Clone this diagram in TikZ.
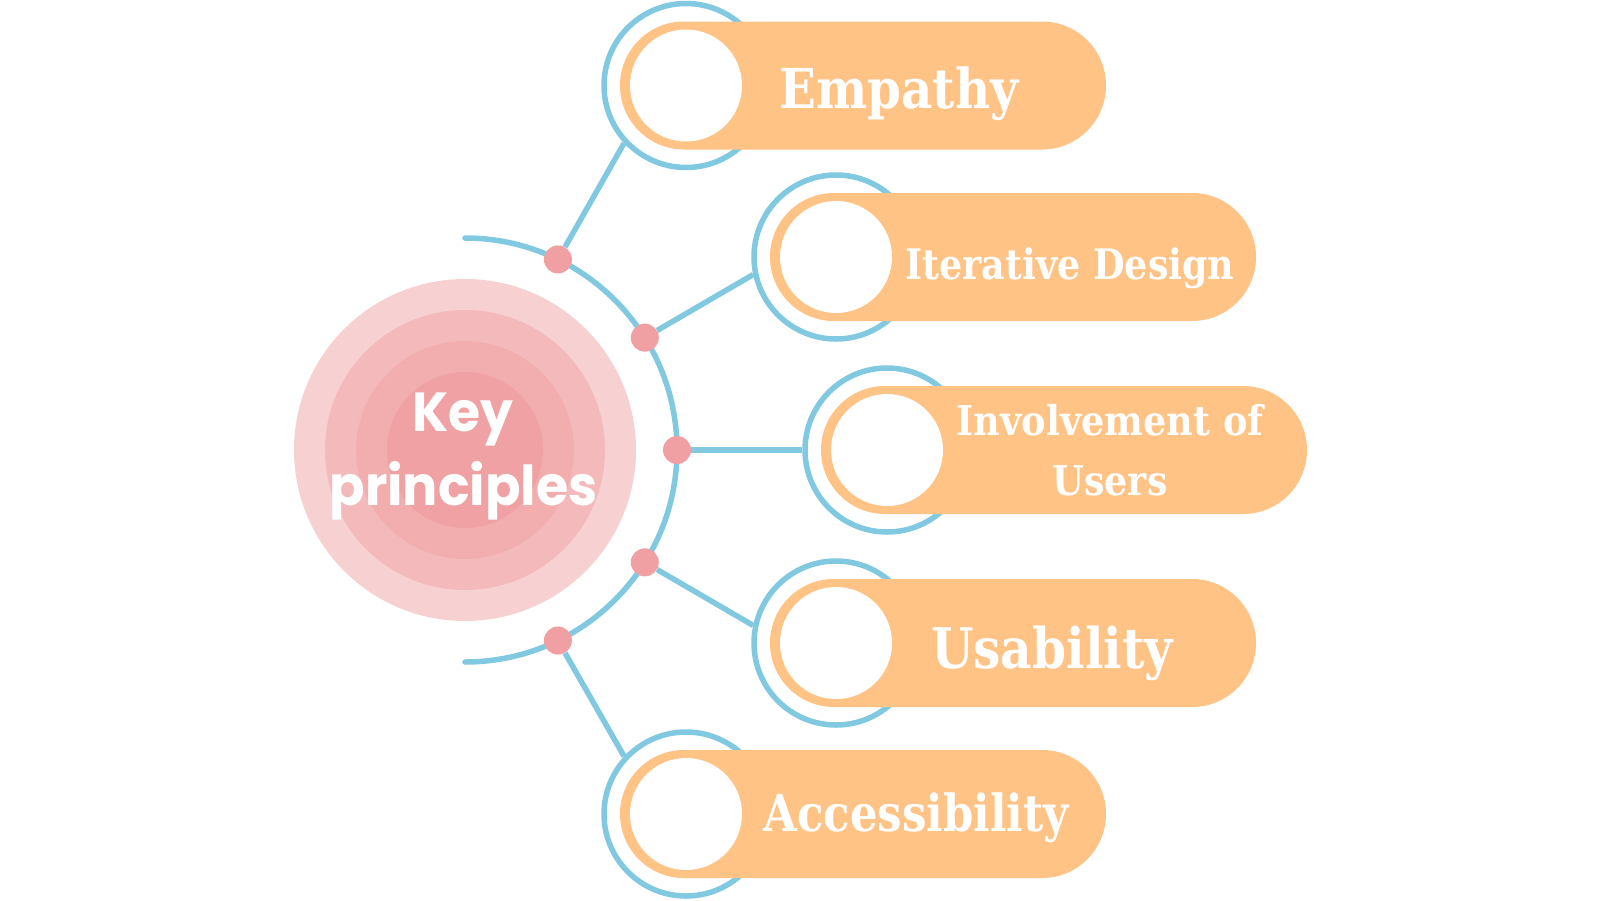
\documentclass[tikz,border=0pt]{standalone}
\usepackage{fontspec}
\usepackage{graphicx}
\usetikzlibrary{calc,shapes.misc}
\newfontfamily\labfont{DejaVu Serif}
\newfontfamily\kpfont{Poppins}
\definecolor{lineblue}{RGB}{128,201,225}
\definecolor{pillorange}{RGB}{255,195,133}
\definecolor{dotpink}{RGB}{240,160,162}
\definecolor{pinkA}{RGB}{247,208,209}
\definecolor{pinkB}{RGB}{244,186,187}
\definecolor{pinkC}{RGB}{242,174,175}
\definecolor{pinkD}{RGB}{240,161,163}
\newcommand\fitw[2]{\resizebox{#1}{\height}{#2}}
\begin{document}
\begin{tikzpicture}[x=1pt,y=-1pt,
  ring/.style={circle, draw=lineblue, line width=5.5pt, minimum size=164pt, inner sep=0pt},
  pill/.style={rounded rectangle, fill=pillorange, minimum width=486pt, minimum height=128pt, inner sep=0pt},
  hole/.style={circle, fill=white, minimum size=112pt, inner sep=0pt},
  dot/.style={circle, fill=dotpink, minimum size=28pt, inner sep=0pt},
  conn/.style={draw=lineblue, line width=5.5pt},
  disc/.style={circle, inner sep=0pt},
  lab/.style={text=white, inner sep=0pt, anchor=base, font=\labfont\bfseries},
  kp/.style={text=white, inner sep=0pt, anchor=base, font=\kpfont\bfseries}
]
\fill[white] (0,0) rectangle (1600,900);
\useasboundingbox (0,0) rectangle (1600,900);
\coordinate (C) at (465,450);
% central discs
\node[disc, fill=pinkA, minimum size=342pt] (k1) at (C) {};
\node[disc, fill=pinkB, minimum size=280pt] (k2) at (C) {};
\node[disc, fill=pinkC, minimum size=218pt] (k3) at (C) {};
\node[disc, fill=pinkD, minimum size=156pt] (k4) at (C) {};
% arc
\coordinate (atop) at ($(C)+(90:212pt)$);
\draw[conn, line cap=round] (atop) arc[start angle=90, end angle=-90, radius=212pt];
% rings
\node[ring] (r1) at (686,85.5) {};
\node[ring] (r2) at (836,257) {};
\node[ring] (r3) at (887,450) {};
\node[ring] (r4) at (836,643) {};
\node[ring] (r5) at (686,814) {};
% pills
\node[pill] (p1) at (863,85.5) {};
\node[pill] (p2) at (1013,257) {};
\node[pill] (p3) at (1064,450) {};
\node[pill] (p4) at (1013,643) {};
\node[pill] (p5) at (863,814) {};
% holes
\node[hole] (h1) at (686,85.5) {};
\node[hole] (h2) at (836,257) {};
\node[hole] (h3) at (887,450) {};
\node[hole] (h4) at (836,643) {};
\node[hole] (h5) at (686,814) {};
% dots
\node[dot] (d1) at ($(C)+(64:212pt)$) {};
\node[dot] (d2) at ($(C)+(32:212pt)$) {};
\node[dot] (d3) at ($(C)+(0:212pt)$) {};
\node[dot] (d4) at ($(C)+(-32:212pt)$) {};
\node[dot] (d5) at ($(C)+(-64:212pt)$) {};
% connectors
\draw[conn] (d1) -- (r1.223);
\draw[conn] (d2) -- (r2.192);
\draw[conn] (d3) -- (r3.180);
\draw[conn] (d4) -- (r4.168);
\draw[conn] (d5) -- (r5.137);
% center text
\node[kp] (kpa) at (463,431) {\fontsize{55}{60}\selectfont\fitw{101pt}{Key}};
\node[kp] (kpb) at (463.5,505) {\fontsize{55}{60}\selectfont\fitw{268pt}{principles}};
% labels
\node[lab] (t1) at (899,108) {\fontsize{55}{60}\selectfont\fitw{239pt}{Empathy}};
\node[lab] (t2) at (1070,279.5) {\fontsize{42}{50}\selectfont\fitw{329pt}{Iterative Design}};
\node[lab] (t3a) at (1110,435) {\fontsize{41}{50}\selectfont\fitw{307pt}{Involvement of}};
\node[lab] (t3b) at (1110,495) {\fontsize{41}{50}\selectfont\fitw{115pt}{Users}};
\node[lab] (t4) at (1052,668) {\fontsize{56}{60}\selectfont\fitw{242pt}{Usability}};
\node[lab] (t5) at (916,831) {\fontsize{51}{60}\selectfont\fitw{305pt}{Accessibility}};
\end{tikzpicture}
\end{document}
